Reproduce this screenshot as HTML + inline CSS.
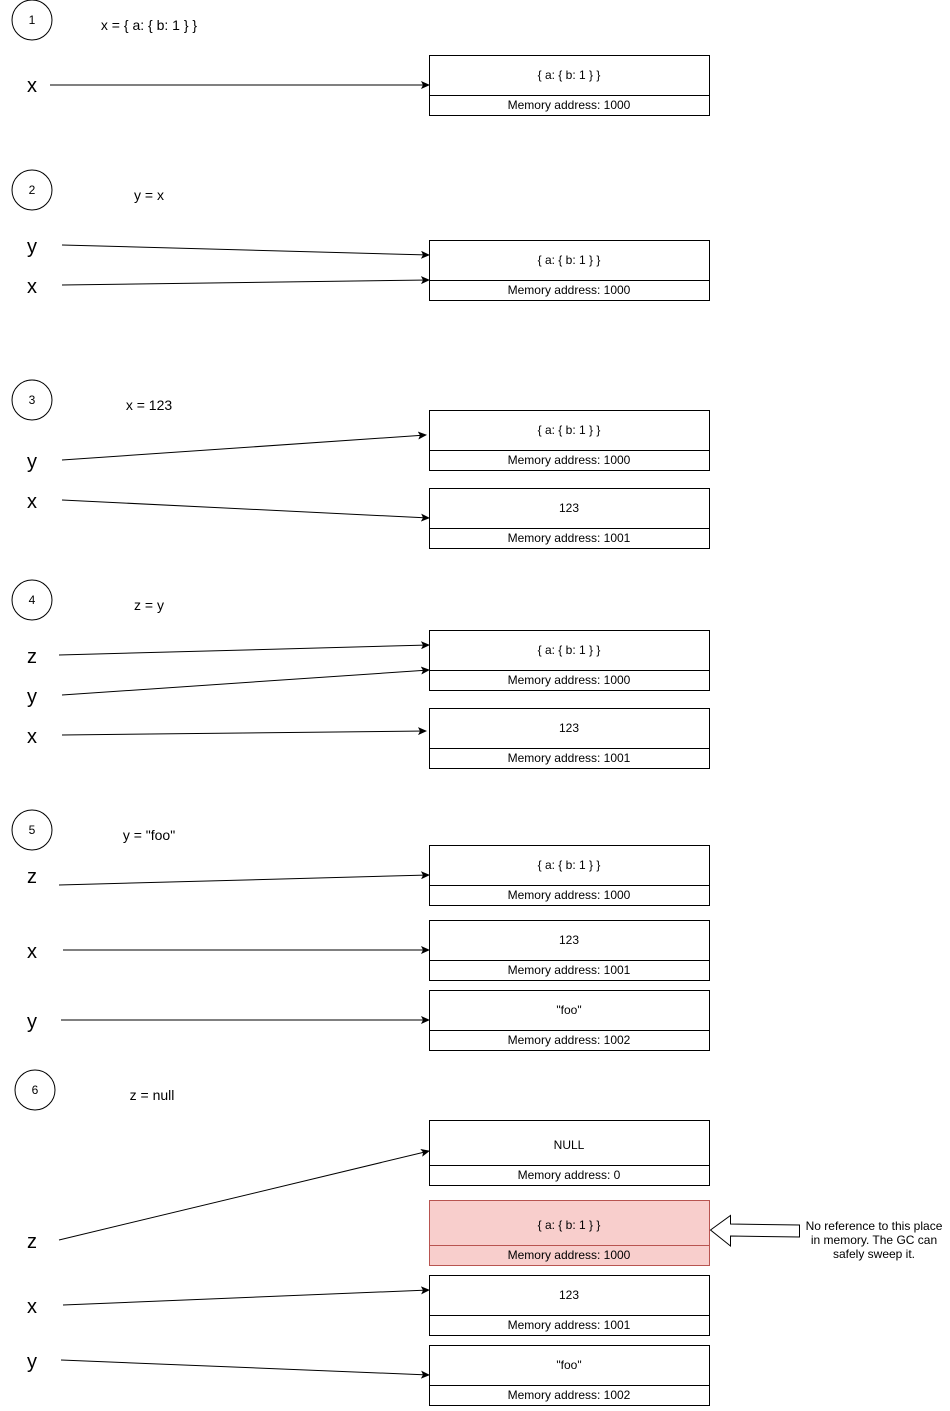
<!DOCTYPE html>
<html><head><meta charset="utf-8"><style>
html,body{margin:0;padding:0;background:#fff;width:950px;height:1411px;overflow:hidden}
svg{display:block;font-family:"Liberation Sans",sans-serif}
</style></head><body>
<svg width="950" height="1411" viewBox="0 0 950 1411" xmlns="http://www.w3.org/2000/svg">
<defs><marker id="a" markerWidth="10" markerHeight="8" refX="8" refY="4" orient="auto" markerUnits="userSpaceOnUse"><path d="M0,0 L9,4 L0,8 L2,4 Z" fill="#000"/></marker></defs>
<g fill="none" stroke="#000" stroke-width="1">
<circle cx="32" cy="20" r="20"/><circle cx="32" cy="190" r="20"/><circle cx="32" cy="400" r="20"/><circle cx="32" cy="600" r="20"/><circle cx="32" cy="830" r="20"/><circle cx="35" cy="1090" r="20"/>
</g>
<g font-size="12" text-anchor="middle" fill="#000">
<text x="32" y="24">1</text><text x="32" y="194">2</text><text x="32" y="404">3</text><text x="32" y="604">4</text><text x="32" y="834">5</text><text x="35" y="1094">6</text>
</g>
<g font-size="14" text-anchor="middle" fill="#000">
<text x="149" y="30">x = { a: { b: 1 } }</text>
<text x="149" y="200">y = x</text>
<text x="149" y="410">x = 123</text>
<text x="149" y="610">z = y</text>
<text x="149" y="840">y = "foo"</text>
<text x="152" y="1100">z = null</text>
</g>
<g font-size="20" text-anchor="middle" fill="#000">
<text x="32" y="92">x</text>
<text x="32" y="253">y</text><text x="32" y="293">x</text>
<text x="32" y="468">y</text><text x="32" y="508">x</text>
<text x="32" y="663">z</text><text x="32" y="703">y</text><text x="32" y="743">x</text>
<text x="32" y="883">z</text><text x="32" y="958">x</text><text x="32" y="1028">y</text>
<text x="32" y="1248">z</text><text x="32" y="1313">x</text><text x="32" y="1368">y</text>
</g>
<g stroke="#000" stroke-width="1" fill="none" marker-end="url(#a)">
<line x1="50" y1="85" x2="429" y2="85"/>
<line x1="62" y1="245" x2="429" y2="255"/><line x1="62" y1="285" x2="429" y2="280"/>
<line x1="62" y1="460" x2="426" y2="435"/><line x1="62" y1="500" x2="429" y2="518"/>
<line x1="59" y1="655" x2="429" y2="645"/><line x1="62" y1="695" x2="429" y2="670"/><line x1="62" y1="735" x2="426" y2="731"/>
<line x1="59" y1="885" x2="429" y2="875"/><line x1="63" y1="950" x2="429" y2="950"/><line x1="61" y1="1020" x2="429" y2="1020"/>
<line x1="59" y1="1240" x2="429" y2="1151"/><line x1="63" y1="1305" x2="429" y2="1290"/><line x1="61" y1="1360" x2="429" y2="1375"/>
</g>
<g stroke="#000" stroke-width="1" fill="#fff">
<rect x="429.5" y="55.5" width="280" height="60"/><line x1="429.5" y1="95.5" x2="709.5" y2="95.5"/>
<rect x="429.5" y="240.5" width="280" height="60"/><line x1="429.5" y1="280.5" x2="709.5" y2="280.5"/>
<rect x="429.5" y="410.5" width="280" height="60"/><line x1="429.5" y1="450.5" x2="709.5" y2="450.5"/>
<rect x="429.5" y="488.5" width="280" height="60"/><line x1="429.5" y1="528.5" x2="709.5" y2="528.5"/>
<rect x="429.5" y="630.5" width="280" height="60"/><line x1="429.5" y1="670.5" x2="709.5" y2="670.5"/>
<rect x="429.5" y="708.5" width="280" height="60"/><line x1="429.5" y1="748.5" x2="709.5" y2="748.5"/>
<rect x="429.5" y="845.5" width="280" height="60"/><line x1="429.5" y1="885.5" x2="709.5" y2="885.5"/>
<rect x="429.5" y="920.5" width="280" height="60"/><line x1="429.5" y1="960.5" x2="709.5" y2="960.5"/>
<rect x="429.5" y="990.5" width="280" height="60"/><line x1="429.5" y1="1030.5" x2="709.5" y2="1030.5"/>
<rect x="429.5" y="1120.5" width="280" height="65"/><line x1="429.5" y1="1165.5" x2="709.5" y2="1165.5"/>
<rect x="429.5" y="1275.5" width="280" height="60"/><line x1="429.5" y1="1315.5" x2="709.5" y2="1315.5"/>
<rect x="429.5" y="1345.5" width="280" height="60"/><line x1="429.5" y1="1385.5" x2="709.5" y2="1385.5"/>
</g>
<g stroke="#b85450" stroke-width="1" fill="#f8cecc">
<rect x="429.5" y="1200.5" width="280" height="65"/><line x1="429.5" y1="1245.5" x2="709.5" y2="1245.5"/>
</g>
<g font-size="12" text-anchor="middle" fill="#000">
<text x="569" y="79">{ a: { b: 1 } }</text><text x="569" y="109">Memory address: 1000</text>
<text x="569" y="264">{ a: { b: 1 } }</text><text x="569" y="294">Memory address: 1000</text>
<text x="569" y="434">{ a: { b: 1 } }</text><text x="569" y="464">Memory address: 1000</text>
<text x="569" y="512">123</text><text x="569" y="542">Memory address: 1001</text>
<text x="569" y="654">{ a: { b: 1 } }</text><text x="569" y="684">Memory address: 1000</text>
<text x="569" y="732">123</text><text x="569" y="762">Memory address: 1001</text>
<text x="569" y="869">{ a: { b: 1 } }</text><text x="569" y="899">Memory address: 1000</text>
<text x="569" y="944">123</text><text x="569" y="974">Memory address: 1001</text>
<text x="569" y="1014">"foo"</text><text x="569" y="1044">Memory address: 1002</text>
<text x="569" y="1149">NULL</text><text x="569" y="1179">Memory address: 0</text>
<text x="569" y="1229">{ a: { b: 1 } }</text><text x="569" y="1259">Memory address: 1000</text>
<text x="569" y="1299">123</text><text x="569" y="1329">Memory address: 1001</text>
<text x="569" y="1369">"foo"</text><text x="569" y="1399">Memory address: 1002</text>
</g>
<path d="M710.5,1230 L730.5,1215.5 L730.5,1224 L799.5,1225 L799.5,1237 L730.5,1236 L730.5,1246 Z" fill="#fff" stroke="#000" stroke-width="1"/>
<g font-size="12" text-anchor="middle" fill="#000">
<text x="874" y="1230">No reference to this place</text>
<text x="874" y="1244">in memory. The GC can</text>
<text x="874" y="1258">safely sweep it.</text>
</g>
</svg>
</body></html>
